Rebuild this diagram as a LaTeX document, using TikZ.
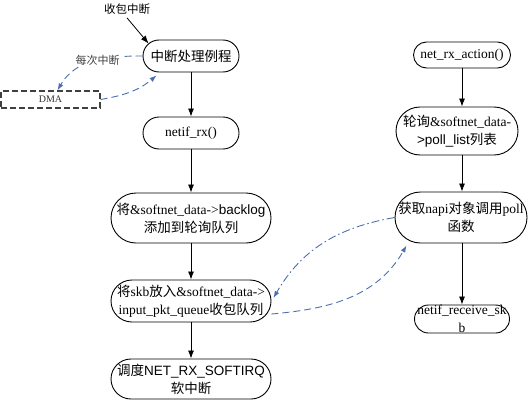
\documentclass[tikz,border=0pt]{standalone}
\usepackage{fontspec}
\setmainfont{Liberation Serif}
\newfontfamily\cjk{Noto Sans CJK SC}
\newfontfamily\arial{Liberation Sans}
\usetikzlibrary{arrows.meta}
\definecolor{irqblue}{RGB}{74,112,176}
\tikzset{
  proc/.style={draw, line width=0.9pt, inner sep=0pt, align=center,
    font=\fontsize{13.5}{18}\selectfont},
  flow/.style={line width=0.8pt, -{Latex[length=8pt,width=6pt]}},
  irqline/.style={color=irqblue, line width=0.9pt, dash pattern=on 7pt off 4pt,
    -{Latex[length=7pt,width=5pt]}},
  pollline/.style={irqline, dash pattern=on 8pt off 3pt on 1.5pt off 3pt}
}
\begin{document}
\begin{tikzpicture}[x=1pt,y=1pt]
  \useasboundingbox (0,0) rectangle (529,400);
  % left column
  \node [font=\fontsize{11.5}{14}\selectfont] (rcv) at (127,391) {\cjk 收包中断};
  \node [proc, minimum width=96, minimum height=32, rounded corners=16] (isr) at (191,344) {\cjk 中断处理例程};
  \node [draw=black!75, line width=1.3pt, dash pattern=on 6pt off 3pt, minimum width=99, minimum height=17,
    inner sep=0pt, text=black!80, font=\fontsize{10}{12}\selectfont] (dma) at (50.5,300.5) {DMA};
  \node [proc, minimum width=96, minimum height=32, rounded corners=16] (netif) at (191,267) {netif\_rx()};
  \node [proc, minimum width=160, minimum height=50, rounded corners=25] (backlog) at (191,182)
    {{\cjk 将}\&softnet\_data->{\arial backlog}\\{\cjk 添加到轮询队列}};
  \node [proc, minimum width=160, minimum height=42, rounded corners=21] (skb) at (191,99)
    {{\cjk 将}skb{\cjk 放入}\&softnet\_data->\\input\_pkt\_queue{\cjk 收包队列}};
  \node [proc, minimum width=160, minimum height=40, rounded corners=20] (softirq) at (191,21)
    {{\cjk 调度}{\arial NET\_RX\_SOFTIRQ}\\{\cjk 软中断}};
  % right column
  \node [proc, minimum width=97, minimum height=26, rounded corners=13] (netrx) at (462,345) {net\_rx\_action()};
  \node [proc, minimum width=122, minimum height=48, rounded corners=24] (poll) at (457,269)
    {{\cjk 轮询}\&softnet\_data-\\{\arial >poll\_list}{\cjk 列表}};
  \node [proc, minimum width=132, minimum height=51, rounded corners=25.5] (napi) at (461,182.5)
    {{\cjk 获取}napi{\cjk 对象调用}poll\\{\cjk 函数}};
  \node [proc, minimum width=95, minimum height=28, rounded corners=14] (recv) at (462,81)
    {netif\_receive\_sk\\b};

  \draw [flow] (rcv.south) -- ([shift={(6,-4)}]isr.north west);
  \draw [flow] (isr) -- (netif);
  \draw [flow] (netif) -- (backlog);
  \draw [flow] (backlog) -- (skb);
  \draw [flow] (skb) -- (softirq);
  \draw [flow] (netrx.south) -- (netrx.south |- poll.north);
  \draw [flow] (poll.south -| netrx.south) -- (napi.north -| netrx.south);
  \draw [flow] (napi.south -| netrx.south) -- (recv.north -| netrx.south);

  \draw [irqline] (isr.west) to [out=180,in=60]
    node [pos=0.45, fill=white, inner sep=1pt, text=black!75, font=\fontsize{11}{13}\selectfont] {\cjk 每次中断}
    ([xshift=7pt]dma.north);
  \draw [irqline] (dma.east) to [out=10,in=220] ([shift={(14,-3)}]isr.south west);
  \draw [pollline] (napi.west) to [out=190,in=60] ([shift={(2,3)}]skb.east);
  \draw [irqline] ([yshift=-13pt]skb.east) to [out=5,in=240] ([shift={(12,-2)}]napi.south west);
\end{tikzpicture}
\end{document}
